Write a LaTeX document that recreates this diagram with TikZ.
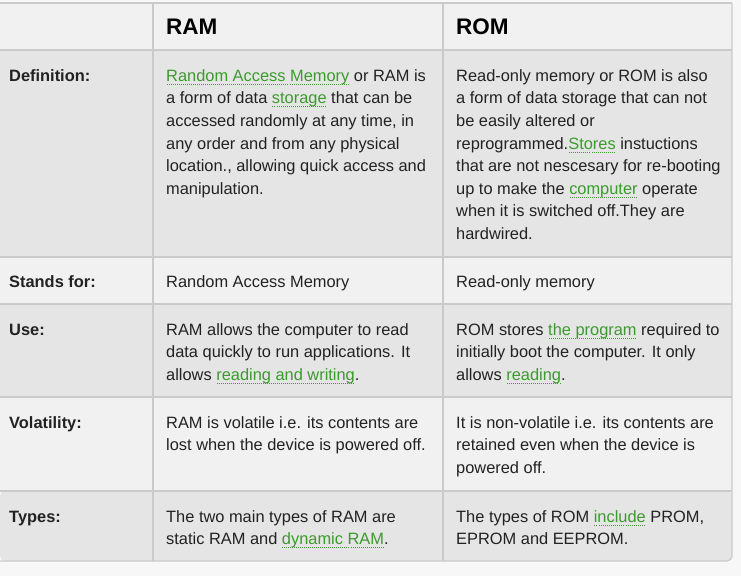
\documentclass[tikz,border=0pt]{standalone}
\usepackage{fontspec}
\setmainfont{Liberation Sans}
\definecolor{lk}{HTML}{3C9A2E}
\definecolor{tx}{HTML}{222222}
\definecolor{grid}{HTML}{CACACA}
\definecolor{rowd}{HTML}{E5E5E5}
\definecolor{rowl}{HTML}{F1F1F1}
\definecolor{bg}{HTML}{F7F7F7}
\newsavebox\glbox
\newcommand\gl[1]{\textcolor{lk}{\sbox\glbox{#1}\rlap{\raisebox{-3.5pt}{\hbox to\wd\glbox{\xleaders\hbox to 2pt{\hss\rule{1pt}{1pt}\hss}\hfill}}}\usebox\glbox}}
\newcommand\st{\rule{0pt}{12pt}}
\begin{document}
\begin{tikzpicture}[x=1pt,y=-1pt,
  cell/.style={anchor=north west,inner sep=0pt,align=left,text=tx,font=\fontsize{16.4}{22.6}\selectfont},
  lab/.style={cell,font=\fontsize{16.4}{22.6}\selectfont\bfseries},
  head/.style={anchor=west,inner sep=0pt,text=black,font=\fontsize{22.5}{24}\selectfont\bfseries},
  gridline/.style={draw=grid,line width=1.3pt}]
\useasboundingbox (0,0) rectangle (741,576);
\fill[bg] (0,0) rectangle (741,576);
\fill[rowl] (0,3) rectangle (732,50);
\fill[rowd] (0,50) rectangle (732,257);
\fill[rowl] (0,257) rectangle (732,304);
\fill[rowd] (0,304) rectangle (732,397);
\fill[rowl] (0,397) rectangle (732,491);
\fill[rowd,rounded corners=5pt] (0,491) -- (732,491) -- (732,561) -- (0,561) -- cycle;
\draw[gridline] (0,3) -- (732,3);
\draw[gridline] (0,50) -- (732,50);
\draw[gridline] (0,257) -- (732,257);
\draw[gridline] (0,304) -- (732,304);
\draw[gridline] (0,397) -- (732,397);
\draw[gridline] (0,491) -- (732,491);
\draw[gridline,rounded corners=5pt] (732,3) -- (732,561) -- (0,561);
\draw[gridline] (153,3) -- (153,561);
\draw[gridline] (443,3) -- (443,561);

\node[head] (hram) at (166,27) {RAM};
\node[head] (hrom) at (456,27) {ROM};

\node[lab] (l1) at (9,69) {\st Definition:};
\node[cell] (a1) at (166,69) {\st\gl{Random Access Memory} or RAM is\\a form of data \gl{storage} that can be\\accessed randomly at any time, in\\any order and from any physical\\location., allowing quick access and\\manipulation.};
\node[cell] (b1) at (456,69) {\st Read-only memory or ROM is also\\a form of data storage that can not\\be easily altered or\\reprogrammed.\gl{Stores} instuctions\\that are not nescesary for re-booting\\up to make the \gl{computer} operate\\when it is switched off.They are\\hardwired.};

\node[lab] (l2) at (9,275) {\st Stands for:};
\node[cell] (a2) at (166,275) {\st Random Access Memory};
\node[cell] (b2) at (456,275) {\st Read-only memory};

\node[lab] (l3) at (9,323) {\st Use:};
\node[cell] (a3) at (166,323) {\st RAM allows the computer to read\\data quickly to run applications. It\\allows \gl{reading and writing}.};
\node[cell] (b3) at (456,323) {\st ROM stores \gl{the program} required to\\initially boot the computer. It only\\allows \gl{reading}.};

\node[lab] (l4) at (9,416) {\st Volatility:};
\node[cell] (a4) at (166,416) {\st RAM is volatile i.e. its contents are\\lost when the device is powered off.};
\node[cell] (b4) at (456,416) {\st It is non-volatile i.e. its contents are\\retained even when the device is\\powered off.};

\node[lab] (l5) at (9,510) {\st Types:};
\node[cell] (a5) at (166,510) {\st The two main types of RAM are\\static RAM and \gl{dynamic RAM}.};
\node[cell] (b5) at (456,510) {\st The types of ROM \gl{include} PROM,\\EPROM and EEPROM.};
\end{tikzpicture}
\end{document}
